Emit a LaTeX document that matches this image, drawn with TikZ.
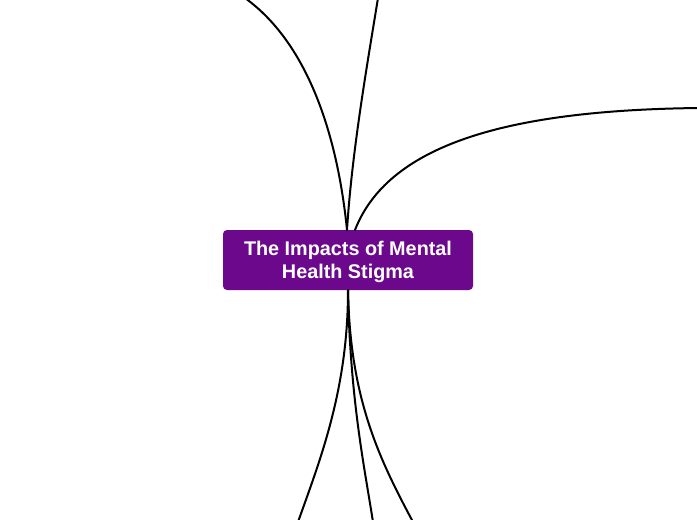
\documentclass[tikz,border=0pt]{standalone}
\usepackage{fontspec}
\setmainfont{Liberation Sans}
\definecolor{centerpurple}{RGB}{108,8,140}
\begin{document}
\begin{tikzpicture}[x=1pt,y=-1pt,
  central/.style={fill=centerpurple, rounded corners=4pt, minimum width=250pt, minimum height=60pt,
    text=white, font=\bfseries\fontsize{19.8}{22.5}\selectfont, align=center, inner sep=0pt},
  branch/.style={draw=black, line width=2pt, line cap=round}]
\useasboundingbox (0,0) rectangle (697,520);
\node[central] (c) at (348,260) {\raisebox{-2.5pt}[\height][\depth]{\begin{tabular}{@{}c@{}}The Impacts of Mental\\[0.5pt]Health Stigma\end{tabular}}};
\coordinate (t1) at (245,-2);
\coordinate (t2) at (378,-2);
\coordinate (t3) at (699,108);
\coordinate (b1) at (298,522);
\coordinate (b2) at (373,522);
\coordinate (b3) at (413,522);
\coordinate (ctop) at (347,230);
\coordinate (ctopr) at (355,230);
\coordinate (cbot) at (348,290);
\draw[branch] (ctop) .. controls (338,140) and (310,45) .. (t1);
\draw[branch] (ctop) .. controls (352,150) and (368,60) .. (t2);
\draw[branch] (ctopr) .. controls (390,140) and (520,110) .. (t3);
\draw[branch] (cbot) .. controls (348,390) and (320,460) .. (b1);
\draw[branch] (cbot) .. controls (350,400) and (365,470) .. (b2);
\draw[branch] (cbot) .. controls (350,400) and (380,460) .. (b3);
\end{tikzpicture}
\end{document}
